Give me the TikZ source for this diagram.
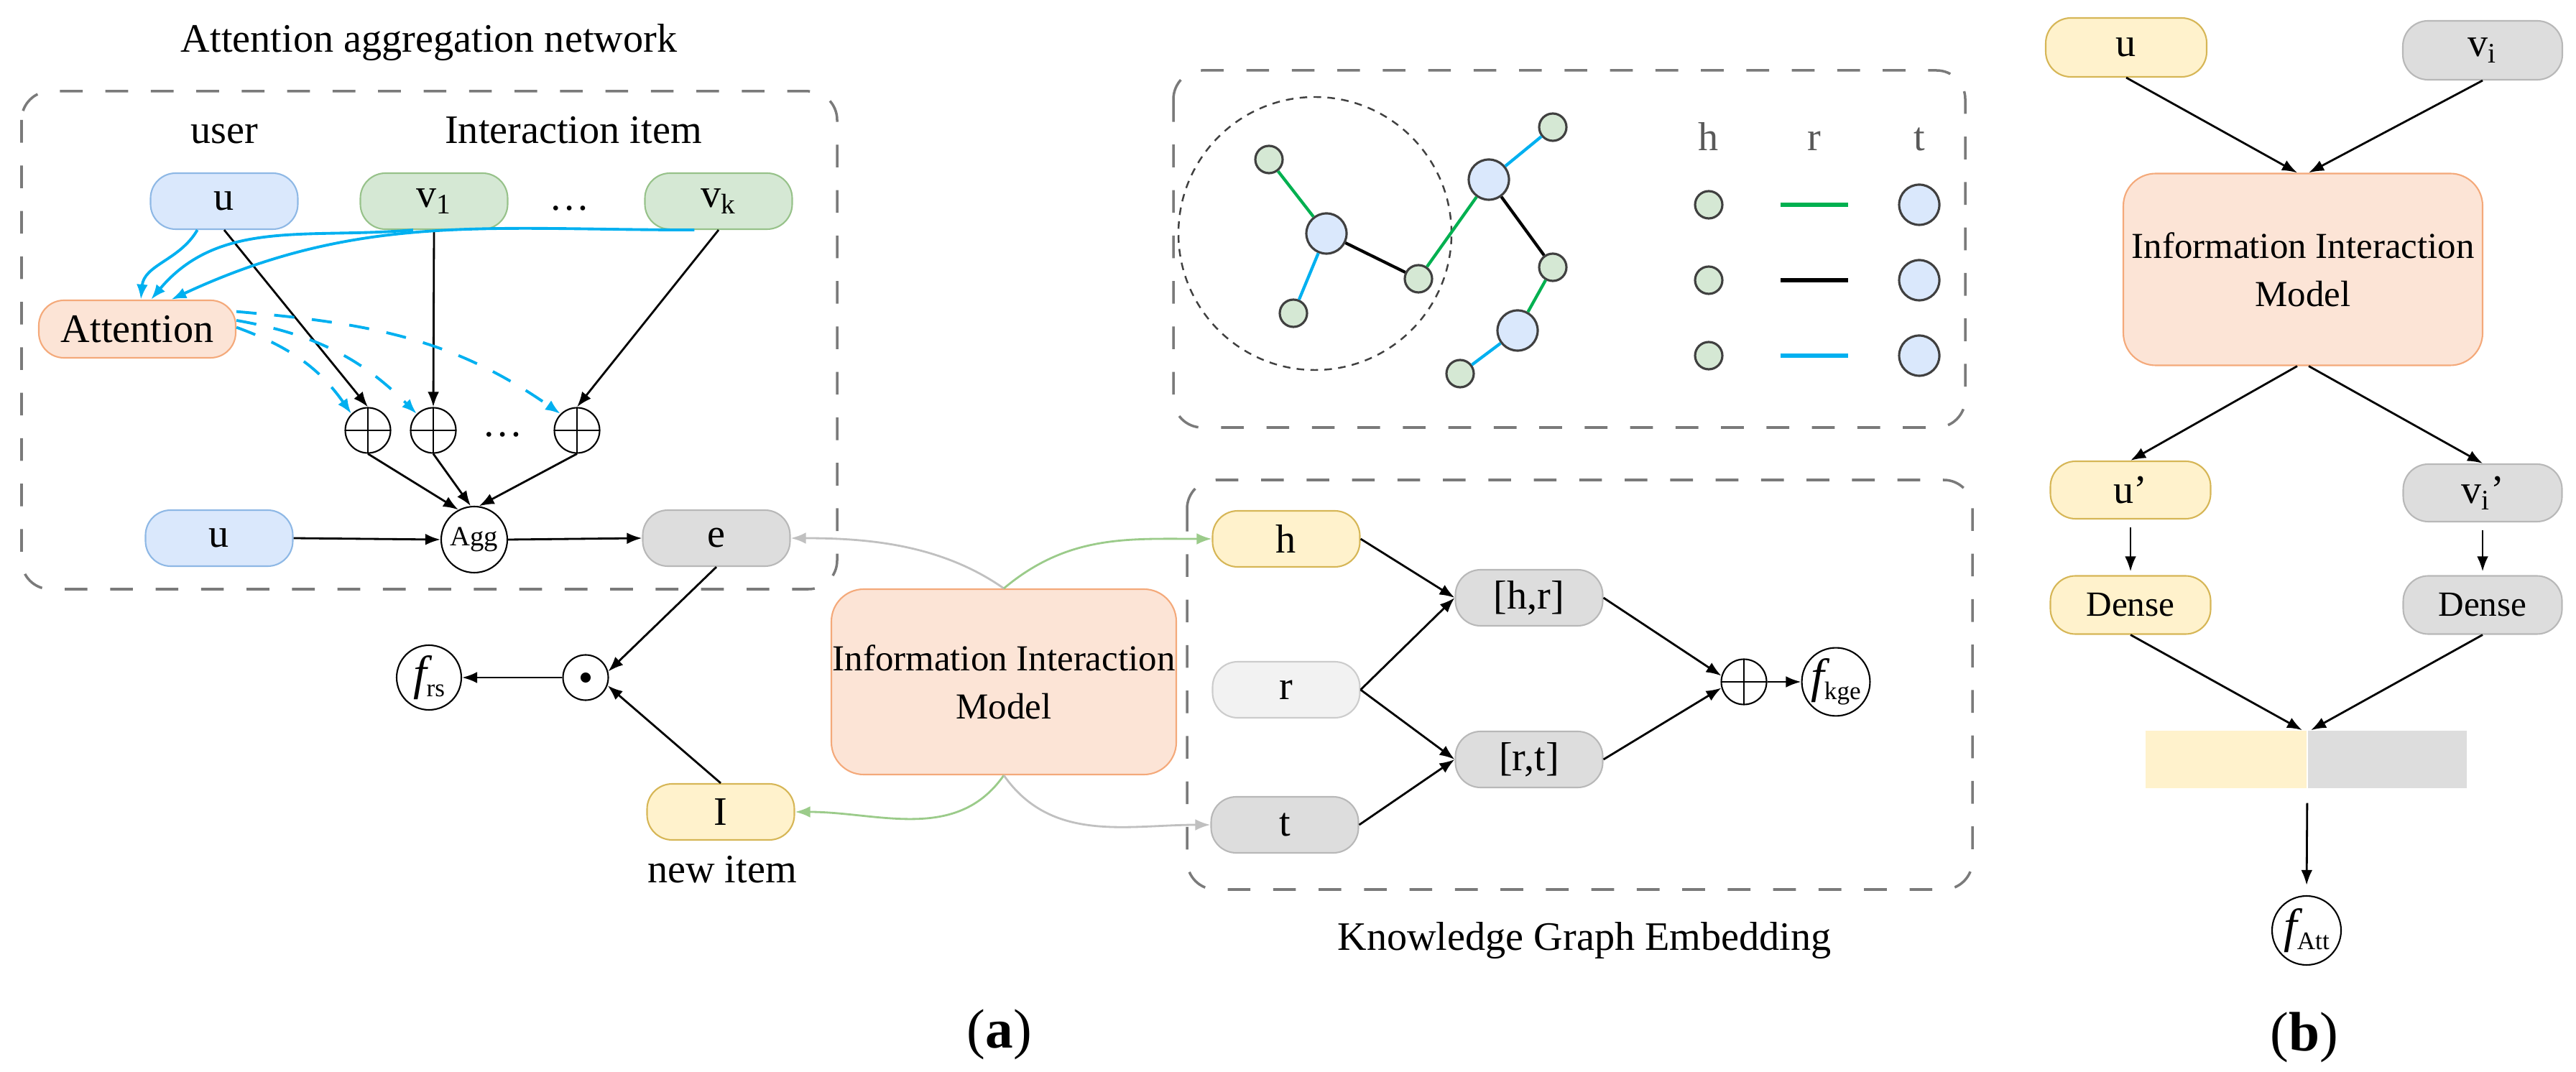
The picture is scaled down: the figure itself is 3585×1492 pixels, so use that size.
\documentclass[tikz,border=0pt]{standalone}
\usepackage{fontspec}
\setmainfont{Liberation Serif}
\usetikzlibrary{arrows.meta, positioning}

\definecolor{ublue}{HTML}{DAE8FC}
\definecolor{ubluel}{HTML}{8EB8E5}
\definecolor{vgreen}{HTML}{D5E8D4}
\definecolor{vgreenl}{HTML}{97C28A}
\definecolor{peach}{HTML}{FCE4D6}
\definecolor{peachl}{HTML}{F4A97A}
\definecolor{yel}{HTML}{FFF2CC}
\definecolor{yell}{HTML}{D6B656}
\definecolor{grayf}{HTML}{DDDDDD}
\definecolor{grayl}{HTML}{B8B8B8}
\definecolor{lgrayf}{HTML}{F2F2F2}
\definecolor{lgrayl}{HTML}{CCCCCC}
\definecolor{cyanarr}{HTML}{00B0F0}
\definecolor{edgegreen}{HTML}{00B050}
\definecolor{linkgreen}{HTML}{9BCB8A}
\definecolor{linkgray}{HTML}{C0C0C0}
\definecolor{framegray}{HTML}{7A7A7A}

\newcommand\fsub[1]{{\fontsize{19}{19}\selectfont\itshape f}\raisebox{-0.4ex}{\fontsize{10}{10}\selectfont #1}}

\begin{document}
\begin{tikzpicture}[x=0.1mm, y=0.1mm, >={Latex[length=6pt,width=4.5pt]},
      font=\fontsize{16}{19}\selectfont,
      pill/.style  = {draw, line width=0.6pt, rounded corners=0.35cm, minimum width=2.05cm,
                      minimum height=0.78cm, inner sep=0pt},
      ubox/.style  = {pill, fill=ublue, draw=ubluel},
      vbox/.style  = {pill, fill=vgreen, draw=vgreenl},
      ybox/.style  = {pill, fill=yel, draw=yell},
      gbox/.style  = {pill, fill=grayf, draw=grayl},
      wbox/.style  = {pill, fill=lgrayf, draw=lgrayl},
      obox/.style  = {pill, fill=peach, draw=peachl},
      iibox/.style = {obox, rounded corners=0.45cm, align=center, font=\fontsize{14.5}{19}\selectfont},
      frame/.style = {draw=framegray, line width=1pt, dash pattern=on 9pt off 9pt, rounded corners=0.4cm},
      op/.style    = {circle, draw, line width=0.6pt, inner sep=0pt, minimum size=0.63cm},
      oplus/.style = {op, path picture={\draw [line width=0.6pt]
                        (path picture bounding box.north) -- (path picture bounding box.south)
                        (path picture bounding box.west) -- (path picture bounding box.east);}},
      odot/.style  = {op, path picture={\fill (path picture bounding box.center) circle (2pt);}},
      fcirc/.style = {circle, draw, line width=0.6pt, inner sep=0pt, minimum size=0.92cm},
      arr/.style   = {->, line width=0.8pt},
      link/.style  = {->, line width=0.8pt},
      att/.style   = {->, cyanarr, line width=1.1pt},
      attd/.style  = {att, dash pattern=on 8pt off 7pt},
      kgn/.style   = {circle, draw=black!75, line width=0.9pt, inner sep=0pt},
      hn/.style    = {kgn, fill=vgreen, minimum size=0.38cm},
      tn/.style    = {kgn, fill=ublue, minimum size=0.56cm},
      rel/.style   = {line width=1.2pt}
   ]
\useasboundingbox (0,0) rectangle (3585,-1492);

% attention aggregation network
\node (title) [anchor=base] at (597,-73) {Attention aggregation network};
\draw [frame] (30,-127) rectangle (1165,-820);
\node (userl) [anchor=base] at (312,-200) {user};
\node (iteml) [anchor=base] at (798,-200) {Interaction item};

\node (ut)    [ubox] at (312,-280) {u};
\node (vone)  [vbox] at (604,-280) {v\textsubscript{1}};
\node (idots)        at (793,-290) {\dots};
\node (vk)    [vbox] at (1000,-280) {v\textsubscript{k}};
\node (att)   [obox, minimum width=2.74cm, minimum height=0.8cm] at (191,-458) {Attention};
\node (pa)    [oplus] at (512,-599) {};
\node (pb)    [oplus] at (603,-599) {};
\node (pdots)         at (700,-605) {\dots};
\node (pc)    [oplus] at (803,-599) {};
\node (agg)   [fcirc, font=\fontsize{11}{12}\selectfont] at (660,-751) {Agg};
\node (ub)    [ubox] at (305,-749) {u};
\node (emb)   [gbox] at (997,-749) {e};

\draw [arr] (ut.south) -- (pa.north);
\draw [arr] (vone.south) -- (pb.north);
\draw [arr] (vk.south) -- (pc.north);
\draw [att] (ut.227) to[out=-120, in=85] (att.83);
\draw [att] (vone.234) to[out=185, in=50] (att.65);
\draw [att] (vk.230) to[out=180, in=25] (att.41);
\draw [attd] (att.1) to[out=-20, in=125] (pa.135);
\draw [attd] (att.5) to[out=-10, in=135] (pb.135);
\draw [attd] (att.10) to[out=-5, in=145] (pc.135);
\draw [arr] (pa.south) -- (agg.118);
\draw [arr] (pb.south) -- (agg.96);
\draw [arr] (pc.south) -- (agg.82);
\draw [arr] (ub.east) -- (agg.west);
\draw [arr] (agg.east) -- (emb.west);

\node (dotp) [odot] at (815,-943) {};
\node (frs)  [fcirc, minimum size=0.9cm] at (597,-943) {\fsub{rs}};
\node (newi) [ybox] at (1003,-1130) {I};
\node (newl) [anchor=base] at (1005,-1228) {new item};
\draw [arr] (emb.south) -- (dotp.15);
\draw [arr] (newi.north) -- (dotp.-20);
\draw [arr] (dotp.west) -- (frs.east);

% information interaction model
\node (iim) [iibox, minimum width=4.8cm, minimum height=2.58cm] at (1397,-949)
      {Information Interaction\\Model};

% knowledge graph
\draw [frame] (1633,-98) rectangle (2735,-595);
\draw [black!75, line width=0.7pt, dash pattern=on 3pt off 2.5pt] (1830,-325) circle (190);
\node (ka) [hn] at (1766,-222) {};
\node (kb) [tn] at (1846,-325) {};
\node (kc) [hn] at (1974,-388) {};
\node (kd) [tn] at (2072,-250) {};
\node (ke) [hn] at (2161,-177) {};
\node (kf) [hn] at (2161,-372) {};
\node (kg) [hn] at (1800,-436) {};
\node (kh) [tn] at (2112,-460) {};
\node (ki) [hn] at (2032,-520) {};
\draw [rel, edgegreen] (ka) -- (kb);
\draw [rel] (kb) -- (kc);
\draw [rel, cyanarr] (kb) -- (kg);
\draw [rel, edgegreen] (kc) -- (kd);
\draw [rel, cyanarr] (kd) -- (ke);
\draw [rel] (kd) -- (kf);
\draw [rel, edgegreen] (kf) -- (kh);
\draw [rel, cyanarr] (kh) -- (ki);

\node (lgh) [anchor=base, text=black!65] at (2378,-210) {h};
\node (lgr) [anchor=base, text=black!65] at (2525,-210) {r};
\node (lgt) [anchor=base, text=black!65] at (2671,-210) {t};
\foreach \y/\c [count=\i] in {285/edgegreen, 390/black, 495/cyanarr} {
  \node (lh\i) [hn] at (2378,-\y) {};
  \node (lt\i) [tn] at (2671,-\y) {};
  \draw [line width=1.5pt, \c] (2478,-\y) -- (2572,-\y);
}

% knowledge graph embedding
\draw [frame] (1652,-668) rectangle (2745,-1238);
\node (hh)    [ybox] at (1790,-750) {h};
\node (rr)    [wbox] at (1790,-960) {r};
\node (tt)    [gbox] at (1788,-1148) {t};
\node (hr)    [gbox] at (2128,-832) {[h,r]};
\node (rt)    [gbox] at (2128,-1057) {[r,t]};
\node (kplus) [oplus] at (2427,-949) {};
\node (fkge)  [fcirc] at (2555,-949) {\fsub{kge}};
\node (kgel)  [anchor=base] at (2205,-1322) {Knowledge Graph Embedding};
\draw [arr] (hh.east) -- (hr.west);
\draw [arr] (rr.east) -- (hr.west);
\draw [arr] (rr.east) -- (rt.west);
\draw [arr] (tt.east) -- (rt.west);
\draw [arr] (hr.east) -- (kplus.165);
\draw [arr] (rt.east) -- (kplus.195);
\draw [arr] (kplus.east) -- (fkge.west);

\draw [link, linkgray]  (iim.north) to[out=145, in=0, looseness=0.9] (emb.east);
\draw [link, linkgreen] (iim.north) to[out=40, in=180] (hh.west);
\draw [link, linkgreen] (iim.south) to[out=-125, in=0] (newi.east);
\draw [link, linkgray]  (iim.south) to[out=-55, in=180] (tt.west);

\node (capa) [anchor=base, font=\fontsize{22}{26}\selectfont] at (1391,-1458) {(\textbf{a})};

% attention function
\node (bu)   [ybox, minimum width=2.24cm, minimum height=0.82cm] at (2959,-66) {u};
\node (bv)   [gbox, minimum width=2.22cm, minimum height=0.82cm] at (3455,-70) {v\textsubscript{i}};
\node (biim) [iibox, minimum width=5.0cm, minimum height=2.67cm] at (3205,-375)
      {Information Interaction\\Model};
\node (bu2)  [ybox, minimum width=2.23cm, minimum height=0.8cm] at (2965,-682) {u’};
\node (bv2)  [gbox, minimum width=2.21cm, minimum height=0.8cm] at (3455,-686) {v\textsubscript{i}’};
\node (bdu)  [ybox, minimum width=2.23cm, minimum height=0.81cm, font=\fontsize{14}{16}\selectfont]
      at (2965,-842) {Dense};
\node (bdv)  [gbox, minimum width=2.21cm, minimum height=0.81cm, font=\fontsize{14}{16}\selectfont]
      at (3455,-842) {Dense};
\node (bara) [fill=yel, minimum width=2.24cm, minimum height=0.8cm, inner sep=0pt, anchor=east]
      at (3211,-1057) {};
\node (barb) [fill=grayf, minimum width=2.21cm, minimum height=0.8cm, inner sep=0pt, anchor=west]
      at (3211,-1057) {};
\node (fatt) [fcirc, minimum size=0.96cm] at (3210,-1295) {\fsub{Att}};
\node (capb) [anchor=base, font=\fontsize{22}{26}\selectfont] at (3207,-1462) {(\textbf{b})};

\draw [arr] (bu.south) -- ([xshift=-0.08cm]biim.north);
\draw [arr] (bv.south) -- ([xshift=0.08cm]biim.north);
\draw [arr] ([xshift=-0.08cm]biim.south) -- (bu2.north);
\draw [arr] ([xshift=0.08cm]biim.south) -- (bv2.north);
\draw [arr, shorten <=0.11cm, shorten >=0.05cm] (bu2.south) -- (bdu.north);
\draw [arr, shorten <=0.11cm, shorten >=0.05cm] (bv2.south) -- (bdv.north);
\draw [arr] (bdu.south) -- ([xshift=-0.07cm]barb.north west);
\draw [arr] (bdv.south) -- ([xshift=0.05cm]barb.north west);
\draw [arr, shorten <=0.2cm, shorten >=0.14cm] (barb.south west) -- (fatt.north);
\end{tikzpicture}
\end{document}
